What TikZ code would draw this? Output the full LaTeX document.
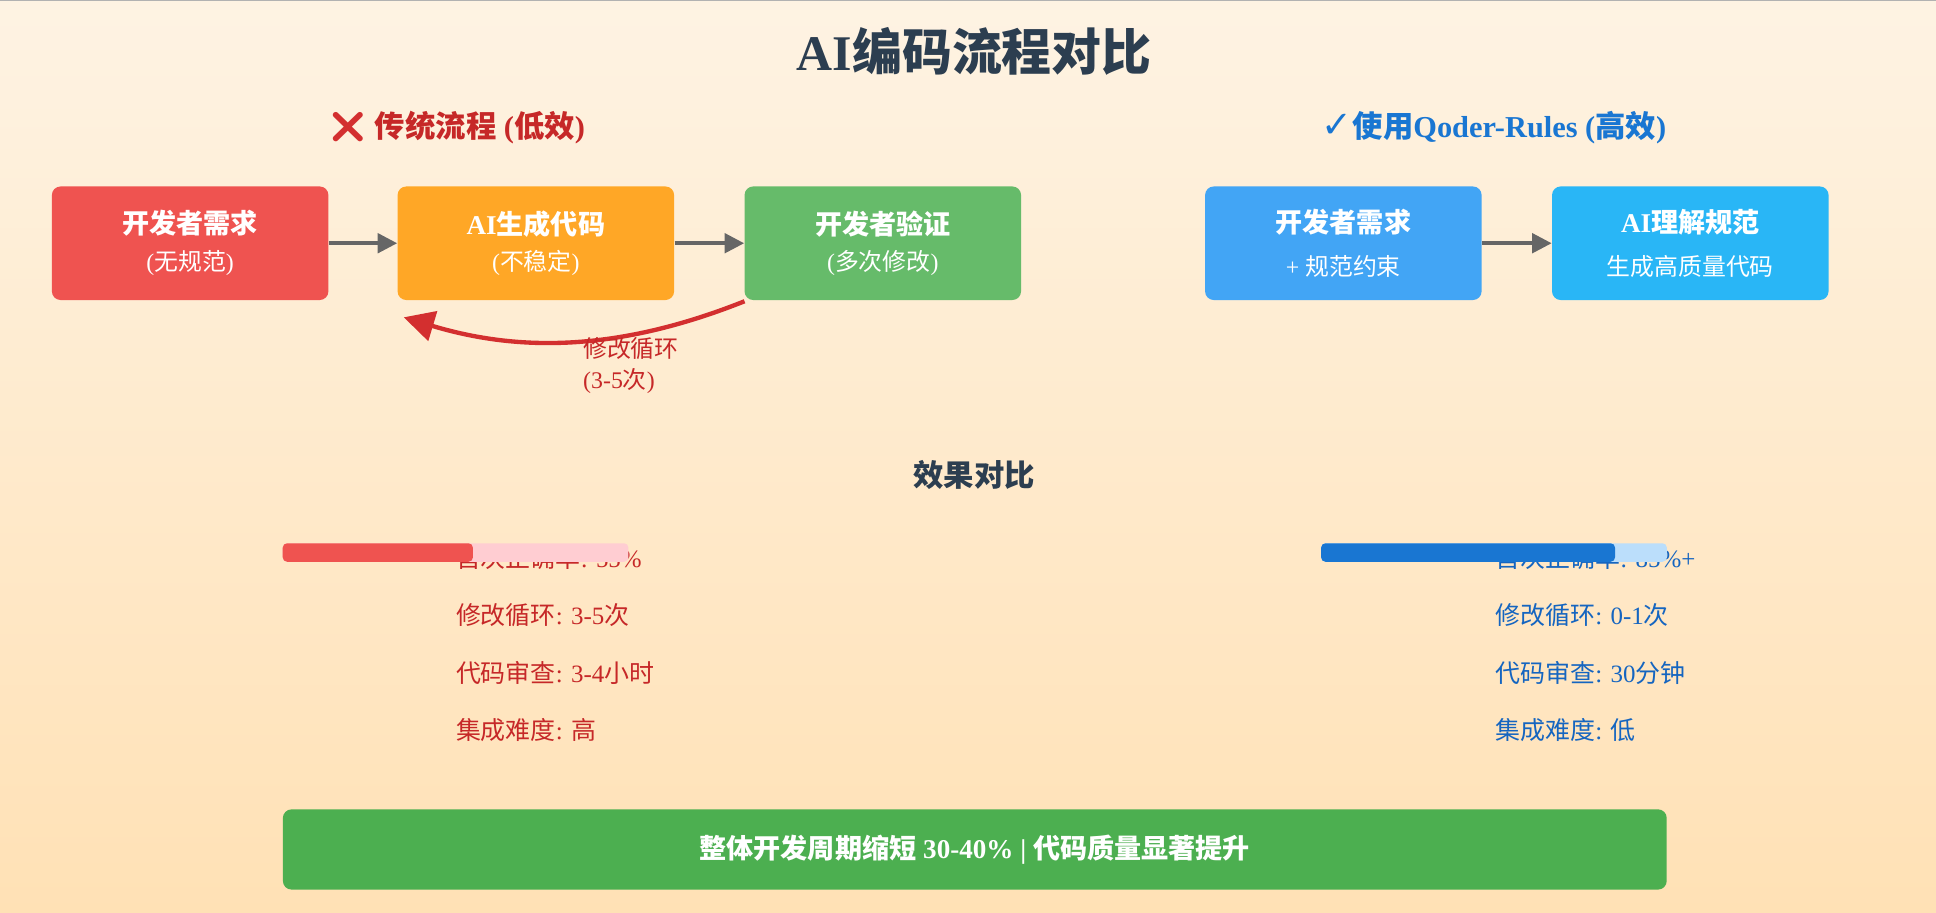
\documentclass[tikz,border=0pt]{standalone}
\usepackage{fontspec}
\setmainfont{Liberation Serif}
\newfontfamily\zhf{Noto Sans CJK SC}
\newfontfamily\emj{Noto Emoji}
\newfontfamily\djv{DejaVu Sans}
\newcommand\zh[1]{{\zhf #1}}
\usetikzlibrary{arrows.meta}
\definecolor{bgtop}{HTML}{FEF3E3}
\definecolor{bgbot}{HTML}{FFE1B5}
\definecolor{ttl}{HTML}{2C3E50}
\definecolor{dred}{HTML}{C62828}
\definecolor{dblue}{HTML}{1565C0}
\definecolor{hblue}{HTML}{1976D2}
\definecolor{c1}{HTML}{EF5350}
\definecolor{c2}{HTML}{FFA726}
\definecolor{c3}{HTML}{66BB6A}
\definecolor{c4}{HTML}{42A5F5}
\definecolor{c5}{HTML}{29B6F6}
\definecolor{pink}{HTML}{FFCDD2}
\definecolor{lblue}{HTML}{BBDEFB}
\definecolor{arr}{HTML}{D32F2F}
\definecolor{grn}{HTML}{4CAF50}
\begin{document}
\begin{tikzpicture}[x=0.02cm,y=-0.02cm,
  box/.style={rounded corners=4pt,minimum width=4.48cm,minimum height=1.84cm,text=white,align=center,inner sep=0pt},
  flow/.style={draw=black!60,line width=1.6pt,-{Triangle[length=9pt,width=9pt]}},
  stat/.style={anchor=west,font=\fontsize{11.5}{14}\selectfont,inner sep=0pt}]
\shade[top color=bgtop,bottom color=bgbot] (0,0) rectangle (1568,739);
\useasboundingbox (0,0) rectangle (1568,739);
\draw[black!30,line width=0.6pt] (0,0.5) -- (1568,0.5);
\node[font=\fontsize{23}{26}\selectfont\bfseries,text=ttl] (title) at (789,42) {AI\zh{编码流程对比}};
\node[font=\fontsize{14}{16}\selectfont\bfseries,text=dred] (lh) at (370,103) {{\emj\color{arr}❌} \zh{传统流程} (\zh{低效})};
\node[font=\fontsize{14}{16}\selectfont\bfseries,text=hblue] (rh) at (1210,103) {{\djv\fontsize{17}{17}\selectfont ✓}\zh{使用}Qoder-Rules (\zh{高效})};
\node[box,fill=c1] (b1) at (154,197) {\zh{\bfseries\fontsize{12.5}{15}\selectfont 开发者需求}\\[5pt]{\fontsize{11}{13}\selectfont(\zh{无规范})}};
\node[box,fill=c2] (b2) at (434,197) {{\bfseries\fontsize{12.5}{15}\selectfont AI\zh{生成代码}}\\[5pt]{\fontsize{11}{13}\selectfont(\zh{不稳定})}};
\node[box,fill=c3] (b3) at (715,197) {\zh{\bfseries\fontsize{12.5}{15}\selectfont 开发者验证}\\[5pt]{\fontsize{11}{13}\selectfont(\zh{多次修改})}};
\node[box,fill=c4] (b4) at (1088,197) {\zh{\bfseries\fontsize{12.5}{15}\selectfont 开发者需求}\\[8pt]{\fontsize{11}{13}\selectfont+ \zh{规范约束}}};
\node[box,fill=c5] (b5) at (1369,197) {{\bfseries\fontsize{12.5}{15}\selectfont AI\zh{理解规范}}\\[8pt]{\fontsize{11}{13}\selectfont\zh{生成高质量代码}}};
\draw[flow] (b1) -- (b2);
\draw[flow] (b2) -- (b3);
\draw[flow] (b4) -- (b5);
\coordinate (cs) at (603,244);
\coordinate (ce) at (327,257);
\draw[draw=arr,line width=2pt,-{Triangle[length=14pt,width=14pt]}] (cs) .. controls (500,285) and (420,285) .. (ce);
\node[anchor=west,align=left,text=dred,font=\fontsize{11}{14}\selectfont,inner sep=0pt] (loop) at (472,296) {\zh{修改循环}\\(3-5\zh{次})};
\node[font=\fontsize{14}{16}\selectfont\bfseries,text=ttl] (eff) at (789,385) {\zh{效果对比}};
\node[stat,text=dred] (l1) at (369,452) {\zh{首次正确率}: 55\%};
\node[stat,text=dred] (l2) at (369,498) {\zh{修改循环}: 3-5\zh{次}};
\node[stat,text=dred] (l3) at (369,545) {\zh{代码审查}: 3-4\zh{小时}};
\node[stat,text=dred] (l4) at (369,591) {\zh{集成难度}: \zh{高}};
\node[stat,text=dblue] (r1) at (1211,452) {\zh{首次正确率}: 85\%+};
\node[stat,text=dblue] (r2) at (1211,498) {\zh{修改循环}: 0-1\zh{次}};
\node[stat,text=dblue] (r3) at (1211,545) {\zh{代码审查}: 30\zh{分钟}};
\node[stat,text=dblue] (r4) at (1211,591) {\zh{集成难度}: \zh{低}};
\fill[fill=pink,rounded corners=2pt] (229,440) rectangle (509,455);
\fill[fill=c1,rounded corners=2pt] (229,440) rectangle (383,455);
\fill[fill=lblue,rounded corners=2pt] (1070,440) rectangle (1350,455);
\fill[fill=hblue,rounded corners=2pt] (1070,440) rectangle (1308,455);
\node[rounded corners=4pt,fill=grn,minimum width=22.42cm,minimum height=1.3cm,text=white,font=\fontsize{12.5}{15}\selectfont\bfseries] (sum) at (789.5,688) {\zh{整体开发周期缩短} 30-40\% | \zh{代码质量显著提升}};
\end{tikzpicture}
\end{document}
